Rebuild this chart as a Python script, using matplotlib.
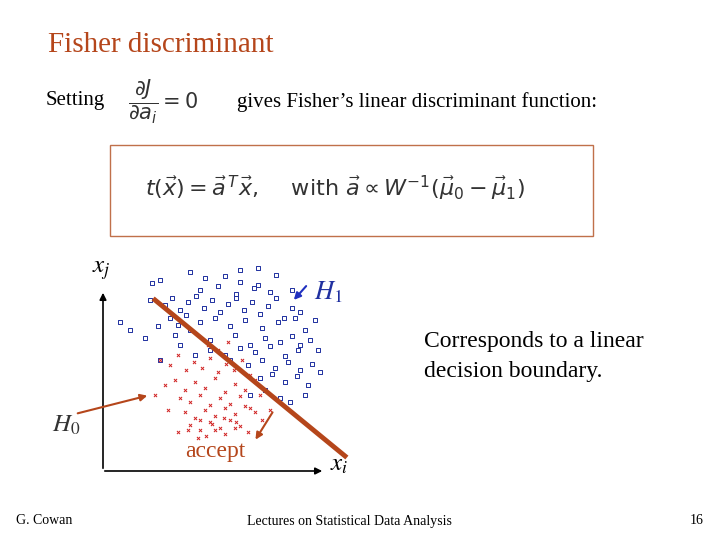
import matplotlib.pyplot as plt
import matplotlib.patches as patches

plt.rcParams['mathtext.fontset'] = 'dejavusans'
serif = 'Liberation Serif'

# scatter samples (pixel coordinates)
blue_x = [152, 160, 190, 205, 225, 240, 258, 150, 165, 172, 180, 188, 196, 204, 212, 220, 228, 236,
          244, 252, 260, 268, 276, 284, 292, 300, 170, 178, 186, 200, 215, 230, 245, 262, 278, 295,
          305, 315, 120, 130, 145, 158, 175, 190, 210, 235, 250, 265, 280, 292, 300, 310, 318, 210,
          225, 240, 255, 270, 285, 298, 230, 248, 262, 275, 288, 300, 312, 320, 260, 272, 285, 297,
          308, 250, 265, 280, 290, 305, 200, 218, 236, 254, 270, 240, 258, 276, 292, 180, 195, 160]
blue_y = [283, 280, 272, 278, 276, 282, 285, 300, 305, 298, 310, 302, 296, 308, 300, 312, 304, 298,
          310, 302, 314, 306, 298, 318, 308, 312, 318, 325, 315, 322, 318, 326, 320, 328, 322, 318,
          330, 320, 322, 330, 338, 326, 335, 330, 340, 335, 345, 338, 342, 336, 345, 340, 350, 350,
          355, 348, 352, 346, 356, 350, 360, 365, 360, 368, 362, 370, 364, 372, 378, 374, 382, 376,
          385, 395, 390, 398, 402, 395, 290, 286, 294, 288, 292, 270, 268, 275, 290, 345, 355, 360]
red_x = [160, 170, 178, 186, 194, 202, 210, 218, 226, 234, 242, 250, 165, 175, 185, 195, 205, 215,
         225, 235, 245, 255, 180, 190, 200, 210, 220, 230, 240, 250, 260, 185, 195, 205, 215, 225,
         235, 245, 255, 190, 200, 210, 220, 230, 240, 178, 206, 215, 225, 235, 200, 212, 224, 236,
         155, 168, 262, 270, 248, 208, 218, 228, 188, 198]
red_y = [360, 365, 355, 370, 362, 368, 358, 372, 364, 370, 360, 375, 385, 380, 390, 382, 388, 378,
         392, 384, 390, 380, 398, 402, 395, 405, 398, 404, 396, 408, 395, 412, 418, 410, 416, 408,
         414, 406, 412, 425, 430, 422, 428, 420, 426, 432, 436, 430, 434, 428, 420, 424, 418, 422,
         395, 410, 420, 410, 432, 345, 350, 342, 430, 438]

fig = plt.figure(figsize=(7.2, 5.4), dpi=100)
ax = fig.add_axes([0, 0, 1, 1])
ax.set_xlim(0, 720)
ax.set_ylim(540, 0)
ax.axis('off')

brown = '#b5461b'
ax.text(48, 45, 'Fisher discriminant', fontsize=21, color=brown, family=serif, va='center')
ax.text(46, 100, 'Setting', fontsize=15, family=serif, va='center')
ax.text(128, 102, r'$\dfrac{\partial J}{\partial a_i} = 0$', fontsize=15, color='#333333', va='center')
ax.text(237, 102, 'gives Fisher\u2019s linear discriminant function:', fontsize=15, family=serif, va='center')

ax.add_patch(patches.Rectangle((110, 145), 483, 91, fill=False, edgecolor='#c0704a', lw=1))
ax.text(145, 188, r'$t(\vec{x}) = \vec{a}^{\,T}\vec{x},$    with $\vec{a} \propto W^{-1}(\vec{\mu}_0 - \vec{\mu}_1)$',
        fontsize=16, color='#333333', va='center')

ax.scatter(blue_x, blue_y, s=8, marker='s', facecolors='none', edgecolors='#2030a0', lw=0.7)
ax.scatter(red_x, red_y, s=5, marker='x', color='#d02020', lw=0.7)

# axes of the sketch
ax.annotate('', xy=(103, 290), xytext=(103, 471), arrowprops=dict(arrowstyle='-|>', color='black', lw=1.2))
ax.annotate('', xy=(325, 471), xytext=(102, 471), arrowprops=dict(arrowstyle='-|>', color='black', lw=1.2))
ax.text(92, 270, r'$x_j$', fontsize=18, va='center', math_fontfamily='stix')
ax.text(330, 464, r'$x_i$', fontsize=18, va='center', math_fontfamily='stix')

ax.plot([155, 345], [300, 456], color='#b5461b', lw=3.5)

ax.annotate('', xy=(292, 302), xytext=(308, 284), arrowprops=dict(arrowstyle='-|>', color='#2030c0', lw=1.5))
ax.text(314, 292, r'$H_1$', fontsize=19, color='#2030a0', va='center', math_fontfamily='stix')
ax.annotate('', xy=(150, 395), xytext=(75, 414), arrowprops=dict(arrowstyle='-|>', color=brown, lw=1.5))
ax.text(52, 425, r'$H_0$', fontsize=18, color='#333333', va='center', math_fontfamily='stix')
ax.annotate('', xy=(254, 442), xytext=(274, 410), arrowprops=dict(arrowstyle='-|>', color=brown, lw=1.5))
ax.text(185, 452, 'accept', fontsize=17, color=brown, family=serif, va='center')

ax.text(424, 342, 'Corresponds to a linear', fontsize=17, family=serif, va='center')
ax.text(424, 371, 'decision boundary.', fontsize=17, family=serif, va='center')

ax.text(16, 520, 'G. Cowan', fontsize=10, family=serif, va='center')
ax.text(247, 521, 'Lectures on Statistical Data Analysis', fontsize=10, family=serif, va='center')
ax.text(690, 520, '16', fontsize=10, family=serif, va='center')

fig.savefig('out.png', dpi=100)
